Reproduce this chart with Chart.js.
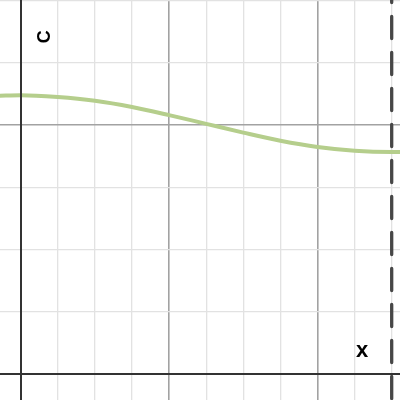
<!DOCTYPE html>
<html>
<head>
<meta charset="utf-8">
<script src="https://cdn.jsdelivr.net/npm/chart.js@4"></script>
<style>
  html, body { margin: 0; padding: 0; background: #fff; }
  #wrap { width: 400px; height: 400px; }
</style>
</head>
<body>
<div id="wrap"><canvas id="plot"></canvas></div>
<script>
// valeurs
const xValues = [-0.6, 0, 1, 2, 3, 4, 5, 6, 7, 8, 9, 10, 10.3];
const cValues = [4.47, 4.48, 4.45, 4.39, 4.29, 4.16, 4.02, 3.88, 3.75, 3.65, 3.59, 3.57, 3.57];
const boundaryX = 10;
const xTitle = "x";
const yTitle = "C";

const X_MIN = -0.558, X_MAX = 10.224;
const Y_MIN = -0.4125, Y_MAX = 6.008;

const isInt = v => Math.abs(v - Math.round(v)) < 1e-6;

// couleur des lignes de grille selon la valeur
function gridColor(ctx) {
    const v = ctx.tick.value;
    if (!isInt(v)) return "transparent";
    if (Math.round(v) === 0) return "transparent"; // l'axe est dessiné au-dessus
    if (Math.round(v) % 4 === 0) return "#a2a2a2";
    return "#e2e2e2";
}
function gridWidth(ctx) {
    const v = ctx.tick.value;
    return isInt(v) && Math.round(v) % 4 === 0 ? 1.6 : 1.3;
}
function axisColor(ctx) {
    const v = ctx.tick.value;
    return isInt(v) && Math.round(v) === 0 ? "#333" : "transparent";
}

const baseScale = {
    type: "linear",
    ticks: { display: false, stepSize: 1, includeBounds: false },
    border: { display: false },
    grid: { drawTicks: false, color: gridColor, lineWidth: gridWidth }
};
const axisScale = {
    type: "linear",
    ticks: { display: false, stepSize: 1, includeBounds: false },
    border: { display: false },
    grid: { z: 1, drawTicks: false, color: axisColor, lineWidth: 2 }
};

// lettres des axes
const axisLetters = {
    id: "axisLetters",
    afterDraw(chart) {
        const { ctx, scales } = chart;
        ctx.save();
        ctx.fillStyle = "#000";
        ctx.textAlign = "center";
        ctx.textBaseline = "middle";

        ctx.font = 'bold 18px "Liberation Sans", Arial, sans-serif';
        ctx.translate(scales.x.getPixelForValue(0.66), scales.y.getPixelForValue(5.42));
        ctx.rotate(-Math.PI / 2);
        ctx.fillText(yTitle, 0, 0);
        ctx.restore();

        ctx.save();
        ctx.fillStyle = "#000";
        ctx.textAlign = "center";
        ctx.textBaseline = "middle";
        ctx.font = 'bold 22px "Liberation Sans", Arial, sans-serif';
        ctx.fillText(xTitle, scales.x.getPixelForValue(9.2), scales.y.getPixelForValue(0.37));
        ctx.restore();
    }
};

new Chart(document.getElementById("plot"), {
    type: "line",
    data: {
        datasets: [
            {
                label: "limite",
                data: [{ x: boundaryX, y: Y_MAX }, { x: boundaryX, y: Y_MIN }],
                borderColor: "#474747",
                borderWidth: 3.3,
                borderDash: [22, 14],
                borderDashOffset: 19.5,
                borderCapStyle: "round",
                pointRadius: 0,
                order: 0
            },
            {
                label: yTitle,
                data: xValues.map((x, i) => ({ x: x, y: cValues[i] })),
                borderColor: "#b5ce8c",
                borderWidth: 4,
                cubicInterpolationMode: "monotone",
                pointRadius: 0,
                fill: false,
                order: 1
            }
        ]
    },
    plugins: [axisLetters],
    options: {
        responsive: true,
        maintainAspectRatio: false,
        animation: false,
        layout: { padding: 0 },
        plugins: { legend: { display: false }, tooltip: { enabled: false } },
        scales: {
            x: Object.assign({}, baseScale, { position: "bottom", min: X_MIN, max: X_MAX }),
            y: Object.assign({}, baseScale, { position: "left", min: Y_MIN, max: Y_MAX }),
            xAxe: Object.assign({}, axisScale, { axis: "x", position: "bottom", min: X_MIN, max: X_MAX }),
            yAxe: Object.assign({}, axisScale, { axis: "y", position: "left", min: Y_MIN, max: Y_MAX })
        }
    }
});
</script>
</body>
</html>
